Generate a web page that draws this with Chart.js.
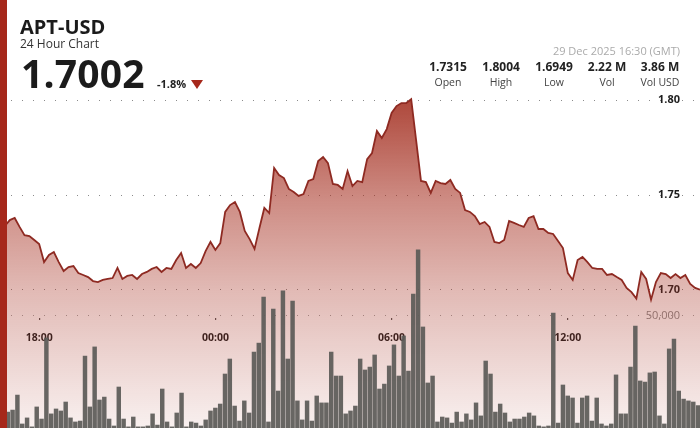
<!DOCTYPE html>
<html>
<head>
<meta charset="utf-8">
<script src="https://cdn.jsdelivr.net/npm/chart.js@4.4.1/dist/chart.umd.min.js"></script>
<style>
  html, body { margin:0; padding:0; background:#fff; }
  #wrap { position:relative; width:700px; height:428px; overflow:hidden; font-family:'Open Sans', sans-serif; }
  #c { position:absolute; left:0; top:0; }
  .abs { position:absolute; line-height:1; white-space:nowrap; }
  #redbar { position:absolute; left:0; top:0; width:7px; height:428px; background:#a6281b; }
  .stat { position:absolute; width:70px; text-align:center; line-height:1; }
</style>
</head>
<body>
<div id="wrap">
  <canvas id="c" width="700" height="428"></canvas>
  <div id="redbar"></div>
  <div class="abs" id="title" style="left:20px;top:16.5px;font-size:20px;font-weight:700;color:#1b1b1b;"></div>
  <div class="abs" id="subtitle" style="left:20px;top:37.5px;font-size:12px;color:#333;"></div>
  <div class="abs" id="last" style="left:21px;top:52.5px;font-size:39px;font-weight:700;color:#1b1b1b;letter-spacing:0.2px;"></div>
  <div class="abs" id="chg" style="left:157px;top:78px;font-size:11px;font-weight:700;color:#222;"></div>
  <div class="abs" style="left:191px;top:80px;width:0;height:0;border-left:6px solid transparent;border-right:6px solid transparent;border-top:9px solid #a6281b;"></div>
  <div class="abs" id="stamp" style="right:20px;top:45px;font-size:11px;color:#aaa;"></div>
  <div id="stats"></div>
</div>
<script>
// ---- data ----
const symbol = 'APT-USD';
const subtitle = '24 Hour Chart';
const lastPrice = '1.7002';
const changePct = '-1.8%';
const stamp = '29 Dec 2025 16:30 (GMT)';
const statLabels = ['Open', 'High', 'Low', 'Vol', 'Vol USD'];
const statValues = ['1.7315', '1.8004', '1.6949', '2.22 M', '3.86 M'];

const priceStart = '16:40';      // first price sample (previous day)
const priceStepMin = 10;          // minutes between samples
const prices = [
  1.7315,1.7337,1.7368,1.7379,1.7332,1.7289,1.7284,1.7263,1.7242,1.7147,
  1.7184,1.7200,1.7147,1.7100,1.7121,1.7126,1.7089,1.7079,1.7068,1.7047,
  1.7042,1.7053,1.7058,1.7063,1.7116,1.7058,1.7074,1.7079,1.7058,1.7084,
  1.7095,1.7111,1.7121,1.7095,1.7116,1.7111,1.7158,1.7195,1.7116,1.7137,
  1.7116,1.7142,1.7205,1.7253,1.7211,1.7247,1.7411,1.7447,1.7463,1.7411,
  1.7311,1.7268,1.7216,1.7326,1.7432,1.7405,1.7642,1.7605,1.7589,1.7532,
  1.7516,1.7495,1.7505,1.7574,1.7584,1.7679,1.7700,1.7668,1.7558,1.7553,
  1.7532,1.7626,1.7547,1.7574,1.7568,1.7689,1.7721,1.7837,1.7800,1.7847,
  1.7932,1.7968,1.7984,1.7984,1.8004,1.7790,1.7574,1.7568,1.7511,1.7574,
  1.7563,1.7558,1.7579,1.7532,1.7511,1.7421,1.7411,1.7389,1.7347,1.7358,
  1.7332,1.7253,1.7247,1.7263,1.7363,1.7353,1.7342,1.7332,1.7379,1.7389,
  1.7321,1.7321,1.7300,1.7295,1.7258,1.7221,1.7089,1.7053,1.7158,1.7174,
  1.7147,1.7116,1.7111,1.7111,1.7079,1.7084,1.7068,1.7053,1.7011,1.6989,
  1.6955,1.7095,1.7058,1.6949,1.7042,1.7089,1.7084,1.7063,1.7084,1.7063,
  1.7079,1.7032,1.7011,1.7002
];

const volumes = [
  9000,12000,7100,8000,14700,1800,4500,500,9400,4000,
  40200,6300,8500,7600,11600,4500,2700,3100,32100,9400,
  36200,12500,13800,4000,900,18300,4000,500,4900,500,
  500,900,6300,1300,17400,2700,500,6700,15600,500,
  2700,2200,900,3600,7600,8900,10700,24100,30800,9800,
  3100,12100,6700,33900,37900,58500,2700,53100,16500,61200,
  30800,56700,12100,3600,12100,3100,14300,11200,11200,33900,
  23200,23200,6300,7600,9800,30800,25900,27200,32600,17400,
  19600,27700,37100,23200,41100,25400,59800,79500,45100,20100,
  23200,2700,4900,4500,2200,7100,2700,6300,3600,11200,
  5400,29900,24100,7100,10700,6700,2700,4000,4000,4900,
  6700,5400,900,500,900,51300,2200,19200,14300,13400,
  2200,13400,14300,3100,13400,1800,900,1800,23700,6300,
  6300,27200,45500,21000,20500,24600,25000,5400,1800,35300,
  39700,16500,12900,12100,11600,10000
];

const priceTicks = [1.70, 1.75, 1.80];
const volumeTicks = [50000];
const timeTicks = ['18:00', '00:00', '06:00', '12:00'];

// ---- header text ----
document.getElementById('title').textContent = symbol;
document.getElementById('subtitle').textContent = subtitle;
document.getElementById('last').textContent = lastPrice;
document.getElementById('chg').textContent = changePct;
document.getElementById('stamp').textContent = stamp;
const statsEl = document.getElementById('stats');
const statCenters = [448, 501, 554, 607, 660];
statLabels.forEach((lab, i) => {
  const v = document.createElement('div');
  v.className = 'stat';
  v.style.cssText = `left:${statCenters[i]-35}px;top:61px;font-size:12px;font-weight:700;color:#222;`;
  v.textContent = statValues[i];
  statsEl.appendChild(v);
  const l = document.createElement('div');
  l.className = 'stat';
  l.style.cssText = `left:${statCenters[i]-35}px;top:77px;font-size:10.5px;color:#444;`;
  l.textContent = lab;
  statsEl.appendChild(l);
});

// ---- helpers ----
function toMin(s) {           // minutes relative to midnight of the chart day
  const [h, m] = s.split(':').map(Number);
  let v = h * 60 + m;
  if (v >= 16 * 60 + 30) v -= 1440;
  return v;
}
function fmtMin(v) {
  const t = ((v % 1440) + 1440) % 1440;
  return String(Math.floor(t / 60)).padStart(2, '0') + ':' + String(t % 60).padStart(2, '0');
}
const t0 = toMin(priceStart);
const linePoints = prices.map((p, i) => ({ x: t0 + i * priceStepMin, y: p }));
const lastT = t0 + (prices.length - 1) * priceStepMin;

const priceMin = 1.627368, priceMax = 1.852632;
const volMax = 191071;
const axisRowPrice = 1.68526;

function fillGradient(ctx) {
  const chart = ctx.chart;
  const area = chart.chartArea;
  if (!area) return 'rgba(165,45,30,0.4)';
  const g = chart.ctx.createLinearGradient(0, area.top, 0, area.bottom);
  g.addColorStop(0.0, 'rgba(160,40,25,0.95)');
  g.addColorStop(0.234, 'rgba(160,40,25,0.85)');
  g.addColorStop(0.467, 'rgba(165,45,30,0.55)');
  g.addColorStop(0.678, 'rgba(165,45,30,0.33)');
  g.addColorStop(1.0, 'rgba(165,45,30,0.07)');
  return g;
}

const dot = { display: false, dash: [1, 10] };
const zeroWidth = s => { s.width = 0; };

new Chart(document.getElementById('c'), {
  data: {
    datasets: [
      {
        type: 'bar',
        data: volumes,
        xAxisID: 'xv',
        yAxisID: 'yv',
        backgroundColor: 'rgba(92,91,88,0.93)',
        borderWidth: 0,
        barThickness: 3.8,
        order: 0
      },
      {
        type: 'line',
        data: linePoints,
        xAxisID: 'x',
        yAxisID: 'y',
        borderColor: '#8e2a22',
        borderWidth: 1.8,
        pointRadius: 0,
        tension: 0,
        fill: 'start',
        backgroundColor: fillGradient,
        order: 1
      }
    ]
  },
  options: {
    responsive: false,
    animation: false,
    devicePixelRatio: 1,
    layout: { padding: 0 },
    plugins: { legend: { display: false }, tooltip: { enabled: false } },
    scales: {
      x: {
        type: 'linear',
        min: t0,
        max: lastT,
        position: { y: axisRowPrice },
        afterBuildTicks: s => { s.ticks = timeTicks.map(t => ({ value: toMin(t) })); },
        ticks: {
          callback: v => fmtMin(v),
          font: { family: 'Open Sans', size: 10.5, weight: 'bold' },
          color: '#1e1e1e',
          padding: 12,
          maxRotation: 0,
          autoSkip: false
        },
        grid: { drawOnChartArea: false, drawTicks: true, tickLength: 2, tickColor: '#555', lineWidth: 1.2 },
        border: { display: false }
      },
      xv: {
        type: 'category',
        labels: volumes.map((_, i) => String(i)),
        offset: false,
        display: false
      },
      y: {
        position: 'right',
        min: priceMin,
        max: priceMax,
        afterFit: zeroWidth,
        afterBuildTicks: s => { s.ticks = priceTicks.map(v => ({ value: v })); },
        ticks: {
          mirror: true,
          padding: -20,
          callback: v => v.toFixed(2),
          font: { family: 'Open Sans', size: 11, weight: 'bold' },
          color: '#1e1e1e'
        },
        grid: { drawTicks: false, color: 'rgba(100,100,100,0.75)', lineWidth: 1 },
        border: dot
      },
      yv: {
        position: 'right',
        min: 0,
        max: volMax,
        afterFit: zeroWidth,
        afterBuildTicks: s => { s.ticks = volumeTicks.map(v => ({ value: v })); },
        ticks: {
          mirror: true,
          padding: -20,
          callback: v => v.toLocaleString('en-US'),
          font: { family: 'Open Sans', size: 11 },
          color: '#8a8a8a'
        },
        grid: { drawTicks: false, color: 'rgba(100,100,100,0.6)', lineWidth: 1 },
        border: dot
      }
    }
  }
});
</script>
</body>
</html>
